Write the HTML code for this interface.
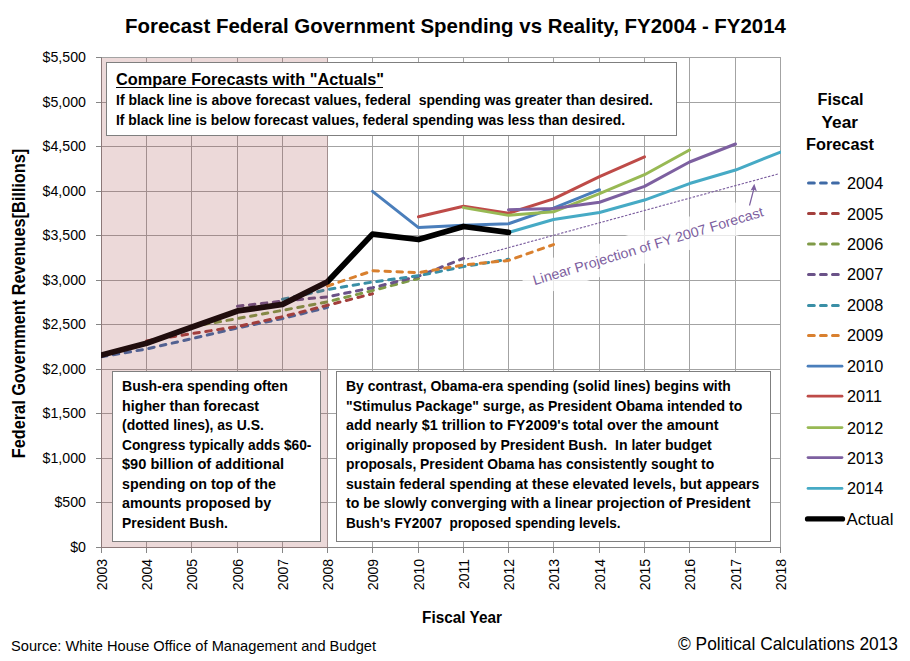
<!DOCTYPE html>
<html><head><meta charset="utf-8"><style>
html,body{margin:0;padding:0;background:#fff;width:910px;height:661px;overflow:hidden}
svg{display:block;font-family:"Liberation Sans", sans-serif}
text{white-space:pre}
</style></head><body>
<svg width="910" height="661" viewBox="0 0 910 661">
<rect width="910" height="661" fill="#fff"/>
<line x1="146.5" y1="57" x2="146.5" y2="547" stroke="#a3a3a3" stroke-width="1"/>
<line x1="191.5" y1="57" x2="191.5" y2="547" stroke="#a3a3a3" stroke-width="1"/>
<line x1="237.5" y1="57" x2="237.5" y2="547" stroke="#a3a3a3" stroke-width="1"/>
<line x1="282.5" y1="57" x2="282.5" y2="547" stroke="#a3a3a3" stroke-width="1"/>
<line x1="327.5" y1="57" x2="327.5" y2="547" stroke="#a3a3a3" stroke-width="1"/>
<line x1="372.5" y1="57" x2="372.5" y2="547" stroke="#a3a3a3" stroke-width="1"/>
<line x1="418.5" y1="57" x2="418.5" y2="547" stroke="#a3a3a3" stroke-width="1"/>
<line x1="463.5" y1="57" x2="463.5" y2="547" stroke="#a3a3a3" stroke-width="1"/>
<line x1="508.5" y1="57" x2="508.5" y2="547" stroke="#a3a3a3" stroke-width="1"/>
<line x1="553.5" y1="57" x2="553.5" y2="547" stroke="#a3a3a3" stroke-width="1"/>
<line x1="599.5" y1="57" x2="599.5" y2="547" stroke="#a3a3a3" stroke-width="1"/>
<line x1="644.5" y1="57" x2="644.5" y2="547" stroke="#a3a3a3" stroke-width="1"/>
<line x1="689.5" y1="57" x2="689.5" y2="547" stroke="#a3a3a3" stroke-width="1"/>
<line x1="735.5" y1="57" x2="735.5" y2="547" stroke="#a3a3a3" stroke-width="1"/>
<line x1="780.5" y1="57" x2="780.5" y2="547" stroke="#a3a3a3" stroke-width="1"/>
<line x1="101" y1="502.5" x2="781" y2="502.5" stroke="#a3a3a3" stroke-width="1"/>
<line x1="101" y1="458.5" x2="781" y2="458.5" stroke="#a3a3a3" stroke-width="1"/>
<line x1="101" y1="413.5" x2="781" y2="413.5" stroke="#a3a3a3" stroke-width="1"/>
<line x1="101" y1="369.5" x2="781" y2="369.5" stroke="#a3a3a3" stroke-width="1"/>
<line x1="101" y1="324.5" x2="781" y2="324.5" stroke="#a3a3a3" stroke-width="1"/>
<line x1="101" y1="280.5" x2="781" y2="280.5" stroke="#a3a3a3" stroke-width="1"/>
<line x1="101" y1="235.5" x2="781" y2="235.5" stroke="#a3a3a3" stroke-width="1"/>
<line x1="101" y1="191.5" x2="781" y2="191.5" stroke="#a3a3a3" stroke-width="1"/>
<line x1="101" y1="146.5" x2="781" y2="146.5" stroke="#a3a3a3" stroke-width="1"/>
<line x1="101" y1="102.5" x2="781" y2="102.5" stroke="#a3a3a3" stroke-width="1"/>
<line x1="101" y1="57.5" x2="781" y2="57.5" stroke="#a3a3a3" stroke-width="1"/>
<line x1="101.5" y1="57" x2="101.5" y2="548" stroke="#868686" stroke-width="1"/>
<line x1="101" y1="547.5" x2="781" y2="547.5" stroke="#868686" stroke-width="1"/>
<line x1="96" y1="547.5" x2="101" y2="547.5" stroke="#868686" stroke-width="1"/>
<line x1="96" y1="502.5" x2="101" y2="502.5" stroke="#868686" stroke-width="1"/>
<line x1="96" y1="458.5" x2="101" y2="458.5" stroke="#868686" stroke-width="1"/>
<line x1="96" y1="413.5" x2="101" y2="413.5" stroke="#868686" stroke-width="1"/>
<line x1="96" y1="369.5" x2="101" y2="369.5" stroke="#868686" stroke-width="1"/>
<line x1="96" y1="324.5" x2="101" y2="324.5" stroke="#868686" stroke-width="1"/>
<line x1="96" y1="280.5" x2="101" y2="280.5" stroke="#868686" stroke-width="1"/>
<line x1="96" y1="235.5" x2="101" y2="235.5" stroke="#868686" stroke-width="1"/>
<line x1="96" y1="191.5" x2="101" y2="191.5" stroke="#868686" stroke-width="1"/>
<line x1="96" y1="146.5" x2="101" y2="146.5" stroke="#868686" stroke-width="1"/>
<line x1="96" y1="102.5" x2="101" y2="102.5" stroke="#868686" stroke-width="1"/>
<line x1="96" y1="57.5" x2="101" y2="57.5" stroke="#868686" stroke-width="1"/>
<line x1="101.5" y1="548" x2="101.5" y2="553" stroke="#868686" stroke-width="1"/>
<line x1="146.5" y1="548" x2="146.5" y2="553" stroke="#868686" stroke-width="1"/>
<line x1="191.5" y1="548" x2="191.5" y2="553" stroke="#868686" stroke-width="1"/>
<line x1="237.5" y1="548" x2="237.5" y2="553" stroke="#868686" stroke-width="1"/>
<line x1="282.5" y1="548" x2="282.5" y2="553" stroke="#868686" stroke-width="1"/>
<line x1="327.5" y1="548" x2="327.5" y2="553" stroke="#868686" stroke-width="1"/>
<line x1="372.5" y1="548" x2="372.5" y2="553" stroke="#868686" stroke-width="1"/>
<line x1="418.5" y1="548" x2="418.5" y2="553" stroke="#868686" stroke-width="1"/>
<line x1="463.5" y1="548" x2="463.5" y2="553" stroke="#868686" stroke-width="1"/>
<line x1="508.5" y1="548" x2="508.5" y2="553" stroke="#868686" stroke-width="1"/>
<line x1="553.5" y1="548" x2="553.5" y2="553" stroke="#868686" stroke-width="1"/>
<line x1="599.5" y1="548" x2="599.5" y2="553" stroke="#868686" stroke-width="1"/>
<line x1="644.5" y1="548" x2="644.5" y2="553" stroke="#868686" stroke-width="1"/>
<line x1="689.5" y1="548" x2="689.5" y2="553" stroke="#868686" stroke-width="1"/>
<line x1="735.5" y1="548" x2="735.5" y2="553" stroke="#868686" stroke-width="1"/>
<line x1="780.5" y1="548" x2="780.5" y2="553" stroke="#868686" stroke-width="1"/>
<clipPath id="pc"><rect x="101" y="40" width="680" height="508"/></clipPath><g clip-path="url(#pc)">
<polyline points="101.50,356.85 146.50,348.92 191.50,338.76 237.50,327.98 282.50,318.54 327.50,307.40" fill="none" stroke="#3f6aa6" stroke-width="3" stroke-linejoin="round" stroke-linecap="round" stroke-dasharray="5.5 6.5"/>
<polyline points="146.50,340.90 191.50,333.68 237.50,326.55 282.50,316.75 327.50,305.26 372.50,293.77" fill="none" stroke="#a33f3c" stroke-width="3" stroke-linejoin="round" stroke-linecap="round" stroke-dasharray="5.5 6.5"/>
<polyline points="191.50,326.64 237.50,318.54 282.50,310.34 327.50,301.79 372.50,290.56 418.50,278.45" fill="none" stroke="#7f9a47" stroke-width="3" stroke-linejoin="round" stroke-linecap="round" stroke-dasharray="5.5 6.5"/>
<polyline points="237.50,306.24 282.50,301.07 327.50,296.80 372.50,287.71 418.50,276.22 463.50,258.40" fill="none" stroke="#6a5288" stroke-width="3" stroke-linejoin="round" stroke-linecap="round" stroke-dasharray="5.5 6.5"/>
<polyline points="282.50,299.29 327.50,289.58 372.50,282.01 418.50,275.77 463.50,266.60 508.50,259.20" fill="none" stroke="#3a8fa6" stroke-width="3" stroke-linejoin="round" stroke-linecap="round" stroke-dasharray="5.5 6.5"/>
<polyline points="327.50,286.02 372.50,270.78 418.50,272.65 463.50,264.99 508.50,260.45 553.50,244.59" fill="none" stroke="#d9802f" stroke-width="3" stroke-linejoin="round" stroke-linecap="round" stroke-dasharray="5.5 6.5"/>
<line x1="467" y1="259" x2="778" y2="174" stroke="#7d60a0" stroke-width="1.15" stroke-dasharray="2.4 1.5"/>
<polyline points="372.50,191.31 418.50,227.57 463.50,225.17 508.50,223.74 553.50,208.15 599.50,189.71" fill="none" stroke="#4a7ebb" stroke-width="3" stroke-linejoin="round" stroke-linecap="round"/>
<polyline points="418.50,216.79 463.50,206.28 508.50,213.23 553.50,198.89 599.50,176.61 644.50,156.93" fill="none" stroke="#be4b48" stroke-width="3" stroke-linejoin="round" stroke-linecap="round"/>
<polyline points="463.50,207.62 508.50,215.37 553.50,211.81 599.50,193.63 644.50,174.74 689.50,149.98" fill="none" stroke="#98b954" stroke-width="3" stroke-linejoin="round" stroke-linecap="round"/>
<polyline points="508.50,209.85 553.50,208.51 599.50,202.27 644.50,186.41 689.50,162.00 735.50,144.01" fill="none" stroke="#7d60a0" stroke-width="3" stroke-linejoin="round" stroke-linecap="round"/>
<polyline points="508.50,232.56 553.50,219.47 599.50,212.52 644.50,200.05 689.50,183.56 735.50,170.02 780.50,152.11" fill="none" stroke="#46aac5" stroke-width="3" stroke-linejoin="round" stroke-linecap="round"/>
<polyline points="101.50,355.07 146.50,343.23 191.50,327.27 237.50,310.95 282.50,304.40 327.50,281.79 372.50,234.10 418.50,239.50 463.50,226.50 508.50,232.38" fill="none" stroke="#000000" stroke-width="5.75" stroke-linejoin="round" stroke-linecap="round"/>
</g>
<rect x="101" y="58" width="227" height="490" fill="#a04040" fill-opacity="0.2"/>
<rect x="106.5" y="62.5" width="570" height="73" fill="#fff" stroke="#7f7f7f" stroke-width="1"/>
<rect x="112.5" y="371.5" width="208" height="170" fill="#fff" stroke="#7f7f7f" stroke-width="1"/>
<rect x="336.5" y="371.5" width="434" height="170" fill="#fff" stroke="#7f7f7f" stroke-width="1"/>
<text x="125" y="32.7" font-size="21" font-weight="bold" text-anchor="start" fill="#000" textLength="661" lengthAdjust="spacingAndGlyphs">Forecast Federal Government Spending vs Reality, FY2004 - FY2014</text>
<text x="116" y="84.7" font-size="16.5" font-weight="bold" text-anchor="start" fill="#000" textLength="268" lengthAdjust="spacingAndGlyphs">Compare Forecasts with &quot;Actuals&quot;</text>
<line x1="116" y1="87.5" x2="383" y2="87.5" stroke="#000" stroke-width="1.2"/>
<text x="116" y="105.2" font-size="14.1" font-weight="bold" text-anchor="start" fill="#000" textLength="537" lengthAdjust="spacingAndGlyphs" xml:space="preserve">If black line is above forecast values, federal  spending was greater than desired.</text>
<text x="116" y="124.8" font-size="14.1" font-weight="bold" text-anchor="start" fill="#000" textLength="509" lengthAdjust="spacingAndGlyphs">If black line is below forecast values, federal spending was less than desired.</text>
<text x="122" y="391.0" font-size="14.4" font-weight="bold" text-anchor="start" fill="#000" textLength="165.8" lengthAdjust="spacingAndGlyphs">Bush-era spending often</text>
<text x="122" y="410.5" font-size="14.4" font-weight="bold" text-anchor="start" fill="#000" textLength="137.1" lengthAdjust="spacingAndGlyphs">higher than forecast</text>
<text x="122" y="430.0" font-size="14.4" font-weight="bold" text-anchor="start" fill="#000" textLength="141.9" lengthAdjust="spacingAndGlyphs">(dotted lines), as U.S.</text>
<text x="122" y="449.5" font-size="14.4" font-weight="bold" text-anchor="start" fill="#000" textLength="189.4" lengthAdjust="spacingAndGlyphs">Congress typically adds $60-</text>
<text x="122" y="469.0" font-size="14.4" font-weight="bold" text-anchor="start" fill="#000" textLength="162.1" lengthAdjust="spacingAndGlyphs">$90 billion of additional</text>
<text x="122" y="488.5" font-size="14.4" font-weight="bold" text-anchor="start" fill="#000" textLength="154.0" lengthAdjust="spacingAndGlyphs">spending on top of the</text>
<text x="122" y="508.0" font-size="14.4" font-weight="bold" text-anchor="start" fill="#000" textLength="149.1" lengthAdjust="spacingAndGlyphs">amounts proposed by</text>
<text x="122" y="527.5" font-size="14.4" font-weight="bold" text-anchor="start" fill="#000" textLength="106.0" lengthAdjust="spacingAndGlyphs">President Bush.</text>
<text x="346" y="391.0" font-size="14.4" font-weight="bold" text-anchor="start" fill="#000" textLength="384.8" lengthAdjust="spacingAndGlyphs" xml:space="preserve">By contrast, Obama-era spending (solid lines) begins with</text>
<text x="346" y="410.5" font-size="14.4" font-weight="bold" text-anchor="start" fill="#000" textLength="396.2" lengthAdjust="spacingAndGlyphs" xml:space="preserve">&quot;Stimulus Package&quot; surge, as President Obama intended to</text>
<text x="346" y="430.0" font-size="14.4" font-weight="bold" text-anchor="start" fill="#000" textLength="372.6" lengthAdjust="spacingAndGlyphs" xml:space="preserve">add nearly $1 trillion to FY2009's total over the amount</text>
<text x="346" y="449.5" font-size="14.4" font-weight="bold" text-anchor="start" fill="#000" textLength="365.7" lengthAdjust="spacingAndGlyphs" xml:space="preserve">originally proposed by President Bush.  In later budget</text>
<text x="346" y="469.0" font-size="14.4" font-weight="bold" text-anchor="start" fill="#000" textLength="368.2" lengthAdjust="spacingAndGlyphs" xml:space="preserve">proposals, President Obama has consistently sought to</text>
<text x="346" y="488.5" font-size="14.4" font-weight="bold" text-anchor="start" fill="#000" textLength="413.4" lengthAdjust="spacingAndGlyphs" xml:space="preserve">sustain federal spending at these elevated levels, but appears</text>
<text x="346" y="508.0" font-size="14.4" font-weight="bold" text-anchor="start" fill="#000" textLength="404.4" lengthAdjust="spacingAndGlyphs" xml:space="preserve">to be slowly converging with a linear projection of President</text>
<text x="346" y="527.5" font-size="14.4" font-weight="bold" text-anchor="start" fill="#000" textLength="274.5" lengthAdjust="spacingAndGlyphs" xml:space="preserve">Bush's FY2007  proposed spending levels.</text>
<text x="86" y="552.0" font-size="14.2" font-weight="normal" text-anchor="end" fill="#000">$0</text>
<text x="86" y="507.45454545454544" font-size="14.2" font-weight="normal" text-anchor="end" fill="#000">$500</text>
<text x="86" y="462.9090909090909" font-size="14.2" font-weight="normal" text-anchor="end" fill="#000">$1,000</text>
<text x="86" y="418.3636363636364" font-size="14.2" font-weight="normal" text-anchor="end" fill="#000">$1,500</text>
<text x="86" y="373.8181818181818" font-size="14.2" font-weight="normal" text-anchor="end" fill="#000">$2,000</text>
<text x="86" y="329.27272727272725" font-size="14.2" font-weight="normal" text-anchor="end" fill="#000">$2,500</text>
<text x="86" y="284.72727272727275" font-size="14.2" font-weight="normal" text-anchor="end" fill="#000">$3,000</text>
<text x="86" y="240.1818181818182" font-size="14.2" font-weight="normal" text-anchor="end" fill="#000">$3,500</text>
<text x="86" y="195.63636363636363" font-size="14.2" font-weight="normal" text-anchor="end" fill="#000">$4,000</text>
<text x="86" y="151.09090909090907" font-size="14.2" font-weight="normal" text-anchor="end" fill="#000">$4,500</text>
<text x="86" y="106.54545454545456" font-size="14.2" font-weight="normal" text-anchor="end" fill="#000">$5,000</text>
<text x="86" y="62.0" font-size="14.2" font-weight="normal" text-anchor="end" fill="#000">$5,500</text>
<text transform="translate(106.5,559) rotate(-90)" font-size="14" text-anchor="end">2003</text>
<text transform="translate(151.5,559) rotate(-90)" font-size="14" text-anchor="end">2004</text>
<text transform="translate(196.5,559) rotate(-90)" font-size="14" text-anchor="end">2005</text>
<text transform="translate(242.5,559) rotate(-90)" font-size="14" text-anchor="end">2006</text>
<text transform="translate(287.5,559) rotate(-90)" font-size="14" text-anchor="end">2007</text>
<text transform="translate(332.5,559) rotate(-90)" font-size="14" text-anchor="end">2008</text>
<text transform="translate(377.5,559) rotate(-90)" font-size="14" text-anchor="end">2009</text>
<text transform="translate(423.5,559) rotate(-90)" font-size="14" text-anchor="end">2010</text>
<text transform="translate(468.5,559) rotate(-90)" font-size="14" text-anchor="end">2011</text>
<text transform="translate(513.5,559) rotate(-90)" font-size="14" text-anchor="end">2012</text>
<text transform="translate(558.5,559) rotate(-90)" font-size="14" text-anchor="end">2013</text>
<text transform="translate(604.5,559) rotate(-90)" font-size="14" text-anchor="end">2014</text>
<text transform="translate(649.5,559) rotate(-90)" font-size="14" text-anchor="end">2015</text>
<text transform="translate(694.5,559) rotate(-90)" font-size="14" text-anchor="end">2016</text>
<text transform="translate(740.5,559) rotate(-90)" font-size="14" text-anchor="end">2017</text>
<text transform="translate(785.5,559) rotate(-90)" font-size="14" text-anchor="end">2018</text>
<text transform="translate(25,303.5) rotate(-90)" font-size="18" font-weight="bold" text-anchor="middle" textLength="309.5" lengthAdjust="spacingAndGlyphs">Federal Government Revenues[Billions]</text>
<text x="422" y="622.7" font-size="16.8" font-weight="bold" text-anchor="start" fill="#000" textLength="80" lengthAdjust="spacingAndGlyphs">Fiscal Year</text>
<text x="11" y="651" font-size="15" font-weight="normal" text-anchor="start" fill="#000" textLength="365" lengthAdjust="spacingAndGlyphs">Source: White House Office of Management and Budget</text>
<text x="678" y="649.7" font-size="18.4" font-weight="normal" text-anchor="start" fill="#000" textLength="220" lengthAdjust="spacingAndGlyphs">© Political Calculations 2013</text>
<text x="817.5" y="104.9" font-size="16.8" font-weight="bold" text-anchor="start" fill="#000" textLength="46" lengthAdjust="spacingAndGlyphs">Fiscal</text>
<text x="821.5" y="127.9" font-size="16.8" font-weight="bold" text-anchor="start" fill="#000" textLength="36.5" lengthAdjust="spacingAndGlyphs">Year</text>
<text x="806" y="150.2" font-size="16.8" font-weight="bold" text-anchor="start" fill="#000" textLength="68" lengthAdjust="spacingAndGlyphs">Forecast</text>
<line x1="808.5" y1="183.1" x2="838.5" y2="183.1" stroke="#3f6aa6" stroke-width="3" stroke-dasharray="5.8 6.2" stroke-linecap="round"/>
<text x="847" y="189.1" font-size="16.3" font-weight="normal" text-anchor="start" fill="#000">2004</text>
<line x1="808.5" y1="213.6" x2="838.5" y2="213.6" stroke="#a33f3c" stroke-width="3" stroke-dasharray="5.8 6.2" stroke-linecap="round"/>
<text x="847" y="219.6" font-size="16.3" font-weight="normal" text-anchor="start" fill="#000">2005</text>
<line x1="808.5" y1="244.0" x2="838.5" y2="244.0" stroke="#7f9a47" stroke-width="3" stroke-dasharray="5.8 6.2" stroke-linecap="round"/>
<text x="847" y="250.0" font-size="16.3" font-weight="normal" text-anchor="start" fill="#000">2006</text>
<line x1="808.5" y1="274.4" x2="838.5" y2="274.4" stroke="#6a5288" stroke-width="3" stroke-dasharray="5.8 6.2" stroke-linecap="round"/>
<text x="847" y="280.4" font-size="16.3" font-weight="normal" text-anchor="start" fill="#000">2007</text>
<line x1="808.5" y1="305.4" x2="838.5" y2="305.4" stroke="#3a8fa6" stroke-width="3" stroke-dasharray="5.8 6.2" stroke-linecap="round"/>
<text x="847" y="311.4" font-size="16.3" font-weight="normal" text-anchor="start" fill="#000">2008</text>
<line x1="808.5" y1="335.4" x2="838.5" y2="335.4" stroke="#d9802f" stroke-width="3" stroke-dasharray="5.8 6.2" stroke-linecap="round"/>
<text x="847" y="341.4" font-size="16.3" font-weight="normal" text-anchor="start" fill="#000">2009</text>
<line x1="808" y1="366.2" x2="842" y2="366.2" stroke="#4a7ebb" stroke-width="2.75" stroke-linecap="round"/>
<text x="847" y="372.2" font-size="16.3" font-weight="normal" text-anchor="start" fill="#000">2010</text>
<line x1="808" y1="396.2" x2="842" y2="396.2" stroke="#be4b48" stroke-width="2.75" stroke-linecap="round"/>
<text x="847" y="402.2" font-size="16.3" font-weight="normal" text-anchor="start" fill="#000">2011</text>
<line x1="808" y1="427.6" x2="842" y2="427.6" stroke="#98b954" stroke-width="2.75" stroke-linecap="round"/>
<text x="847" y="433.6" font-size="16.3" font-weight="normal" text-anchor="start" fill="#000">2012</text>
<line x1="808" y1="457.5" x2="842" y2="457.5" stroke="#7d60a0" stroke-width="2.75" stroke-linecap="round"/>
<text x="847" y="463.5" font-size="16.3" font-weight="normal" text-anchor="start" fill="#000">2013</text>
<line x1="808" y1="488.4" x2="842" y2="488.4" stroke="#46aac5" stroke-width="2.75" stroke-linecap="round"/>
<text x="847" y="494.4" font-size="16.3" font-weight="normal" text-anchor="start" fill="#000">2014</text>
<line x1="807.5" y1="518.9" x2="842.5" y2="518.9" stroke="#000" stroke-width="5.25" stroke-linecap="round"/>
<text x="846.5" y="524.9" font-size="16.3" font-weight="normal" text-anchor="start" fill="#000" textLength="47" lengthAdjust="spacingAndGlyphs">Actual</text>
<g transform="translate(534.5,285.3) rotate(-16.8)"><rect x="-10" y="-21" width="259" height="32" fill="#fff" fill-opacity="0.75"/><text x="0" y="0" font-size="13.8" fill="#7d60a0" textLength="240" lengthAdjust="spacingAndGlyphs">Linear Projection of FY 2007 Forecast</text></g>
<line x1="749.5" y1="205.5" x2="753.8" y2="189" stroke="#7d60a0" stroke-width="1.2"/>
<path d="M754.3,183.8 L750.6,190.6 L753.8,189.6 L756.9,191.4 Z" fill="#7d60a0"/>
</svg>
</body></html>
